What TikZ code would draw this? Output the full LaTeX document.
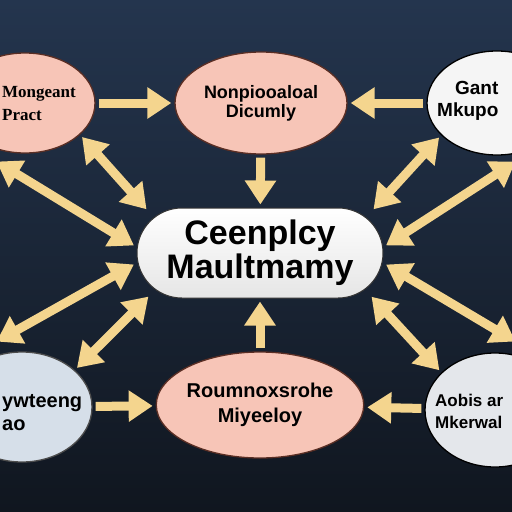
\documentclass[tikz,border=0pt]{standalone}
\usepackage{fontspec}
\setmainfont{Liberation Sans}
\newfontfamily\oldserif{Liberation Serif}
\usetikzlibrary{arrows.meta,calc,shapes.geometric}
\definecolor{bgtop}{HTML}{24354E}
\definecolor{bgbot}{HTML}{10161F}
\definecolor{arrowc}{HTML}{F4D58E}
\definecolor{pinkc}{HTML}{F7C5B7}
\definecolor{rimc}{HTML}{5A2E24}
\definecolor{bluegrey}{HTML}{D6DFE9}
\definecolor{paleg}{HTML}{E4E7EB}

\begin{document}
\begin{tikzpicture}[x=1pt, y=-1pt,
  bubble/.style={ellipse, draw=rimc, line width=1.3pt, inner sep=0pt, align=center},
  txt/.style={inner sep=0pt, align=left, anchor=west},
  arr/.style={draw=arrowc, line width=9pt, -{Triangle[length=24pt,width=30pt]}, shorten >=3pt, shorten <=3pt},
  dbl/.style={arr, {Triangle[length=24pt,width=30pt]}-{Triangle[length=24pt,width=30pt]}}]

\useasboundingbox (0,0) rectangle (512,512);
\clip (0,0) rectangle (512,512);
\shade[top color=bgtop, bottom color=bgbot] (0,0) rectangle (512,512);

\node[bubble, fill=pinkc, minimum width=140pt, minimum height=100pt] (tl) at (25,103) {};
\node[txt, font=\oldserif\bfseries\fontsize{17}{23}\selectfont] (tlt) at (2,104) {Mongeant\\Pract};

\node[bubble, fill=pinkc, minimum width=172pt, minimum height=102pt,
  font=\bfseries\fontsize{18}{19}\selectfont] (tm) at (261,103) {Nonpiooaloal\\Dicumly};

\node[bubble, draw=black, fill=white!96!black, minimum width=140pt, minimum height=104pt] (tr) at (497,103) {};
\node[txt, align=right, font=\bfseries\fontsize{19}{22}\selectfont] (trt) at (437,101) {Gant\\Mkupo};

\node[draw=black!80, line width=1pt, rounded corners=45pt, top color=white, bottom color=black!10,
  minimum width=246pt, minimum height=90pt, align=center,
  font=\bfseries\fontsize{34}{34}\selectfont] (ctr) at (260,253) {Ceenplcy\\Maultmamy};

\node[bubble, draw=black!70, fill=bluegrey, minimum width=140pt, minimum height=110pt] (bl) at (22,407) {};
\node[txt, font=\bfseries\fontsize{20}{23}\selectfont] (blt) at (2,413) {ywteeng\\ao};

\node[bubble, fill=pinkc, minimum width=170pt, minimum height=106pt,
  font=\bfseries\fontsize{20}{25}\selectfont] (bm) at (260,405) {Roumnoxsrohe\\Miyeeloy};

\node[bubble, draw=black, fill=paleg, minimum width=140pt, minimum height=114pt] (br) at (495,410) {};
\node[txt, font=\bfseries\fontsize{17}{22}\selectfont] (brt) at (435,411) {Aobis ar\\Mkerwal};

\coordinate (lup) at (-6,160);
\coordinate (ldn) at (-6,343);
\coordinate (rup) at (518,160);
\coordinate (rdn) at (518,343);

\draw[arr] (tl) -- (tm);
\draw[arr] (tr) -- (tm);
\draw[arr] (tm) -- (ctr);
\draw[arr] (bm) -- (ctr);
\draw[arr] (bl) -- (bm);
\draw[arr] (br) -- (bm);

\draw[dbl] (tl.-30) -- ([xshift=12pt,yshift=-4pt]ctr.north west);
\draw[dbl] (lup) -- ([yshift=6pt]ctr.west);
\draw[dbl] (ldn) -- ([yshift=-10pt]ctr.west);
\draw[dbl] ([xshift=14pt,yshift=4pt]ctr.south west) -- (bl.35);
\draw[dbl] (tr.-150) -- ([xshift=-12pt,yshift=-4pt]ctr.north east);
\draw[dbl] (rup) -- ([yshift=6pt]ctr.east);
\draw[dbl] (rdn) -- ([yshift=-10pt]ctr.east);
\draw[dbl] ([xshift=-14pt,yshift=4pt]ctr.south east) -- (br.145);

\end{tikzpicture}
\end{document}
